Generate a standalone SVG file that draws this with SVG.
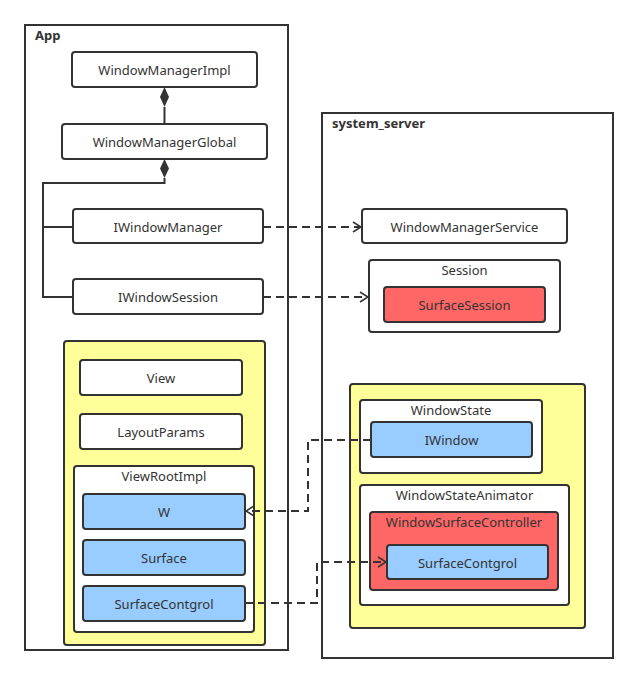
<svg xmlns="http://www.w3.org/2000/svg" width="638" height="683" viewBox="0 0 638 683">
<style>
text{font-family:"Noto Sans","DejaVu Sans",sans-serif;font-size:13px;fill:#333;text-anchor:middle;dominant-baseline:central}
.t{font-weight:bold;text-anchor:start}
.f{fill:none;stroke:#333;stroke-width:2}
.w{fill:#fff;stroke:#333;stroke-width:2}
.y{fill:#ffff99;stroke:#333;stroke-width:2}
.b{fill:#99ccff;stroke:#333;stroke-width:2}
.r{fill:#ff6666;stroke:#333;stroke-width:2}
.c{fill:none;stroke:#333;stroke-width:2}
.d{fill:none;stroke:#333;stroke-width:2;stroke-dasharray:8 5}
</style>
<defs>
<marker id="o" markerWidth="12" markerHeight="12" refX="10" refY="6" orient="auto" markerUnits="userSpaceOnUse"><path d="M2,1 L10,6 L2,11" fill="none" stroke="#333" stroke-width="1.5"/></marker>
</defs>
<rect x="0" y="0" width="638" height="683" fill="#fff"/>
<g id="app"><rect class="f" x="25" y="25" width="263" height="625"/><text class="t" x="35" y="35">App</text></g>
<g id="system_server"><rect class="f" x="322" y="113" width="291" height="545"/><text class="t" x="332" y="123">system_server</text></g>
<g id="wmimpl"><rect class="w" x="72" y="52" width="185" height="35" rx="3"/><text x="164.5" y="70">WindowManagerImpl</text></g>
<g id="wmglobal"><rect class="w" x="62" y="124" width="205" height="35" rx="3"/><text x="164.5" y="142">WindowManagerGlobal</text></g>
<g id="iwm"><rect class="w" x="73" y="209" width="190" height="34" rx="3"/><text x="168" y="227">IWindowManager</text></g>
<g id="iws"><rect class="w" x="73" y="279" width="190" height="35" rx="3"/><text x="168" y="297">IWindowSession</text></g>
<g id="wms"><rect class="w" x="362" y="209" width="205" height="34" rx="3"/><text x="464.5" y="227">WindowManagerService</text></g>
<g id="session"><rect class="w" x="369" y="260" width="191" height="72" rx="3"/><text x="464.5" y="270">Session</text></g>
<g id="surfacesession"><rect class="r" x="384" y="287" width="161" height="35" rx="3"/><text x="464.5" y="305">SurfaceSession</text></g>
<g id="leftgroup"><rect class="y" x="64" y="341" width="201" height="304" rx="3"/></g>
<g id="view"><rect class="w" x="80" y="360" width="162" height="35" rx="3"/><text x="161" y="378">View</text></g>
<g id="layoutparams"><rect class="w" x="80" y="414" width="162" height="35" rx="3"/><text x="161" y="432">LayoutParams</text></g>
<g id="viewrootimpl"><rect class="w" x="74" y="466" width="180" height="166" rx="3"/><text x="164" y="476">ViewRootImpl</text></g>
<g id="w"><rect class="b" x="83" y="494" width="162" height="35" rx="3"/><text x="164" y="512">W</text></g>
<g id="surface"><rect class="b" x="83" y="540" width="162" height="35" rx="3"/><text x="164" y="558">Surface</text></g>
<g id="surfacecontrol1"><rect class="b" x="83" y="586" width="162" height="35" rx="3"/><text x="164" y="604">SurfaceContgrol</text></g>
<g id="rightgroup"><rect class="y" x="350" y="384" width="235" height="244" rx="3"/></g>
<g id="windowstate"><rect class="w" x="360" y="400" width="182" height="73" rx="3"/><text x="451" y="410">WindowState</text></g>
<g id="iwindow"><rect class="b" x="371" y="422" width="161" height="35" rx="3"/><text x="451.5" y="440">IWindow</text></g>
<g id="wsanimator"><rect class="w" x="360" y="485" width="209" height="120" rx="3"/><text x="464.5" y="495">WindowStateAnimator</text></g>
<g id="wsc"><rect class="r" x="370" y="512" width="188" height="78" rx="3"/><text x="464" y="522">WindowSurfaceController</text></g>
<g id="surfacecontrol2"><rect class="b" x="387" y="545" width="161" height="34" rx="3"/><text x="467.5" y="563">SurfaceContgrol</text></g>
<g id="connectors">
<path class="c" d="M164.5,107 V124"/>
<path d="M164.5,87 L169,97 L164.5,107 L160,97 Z" fill="#333"/>
<path class="c" d="M164.5,178 V183 H43 V297 H73 M43,227 H73"/>
<path d="M164.5,159 L169,168.5 L164.5,178 L160,168.5 Z" fill="#333"/>
<path class="d" d="M263,227 H361" marker-end="url(#o)"/>
<path class="d" d="M263,297 H368" marker-end="url(#o)"/>
<path class="d" d="M371,440 H308 V511 H246" marker-end="url(#o)"/>
<path class="d" d="M245,603 H317 V562 H386" marker-end="url(#o)"/>
</g>
</svg>
